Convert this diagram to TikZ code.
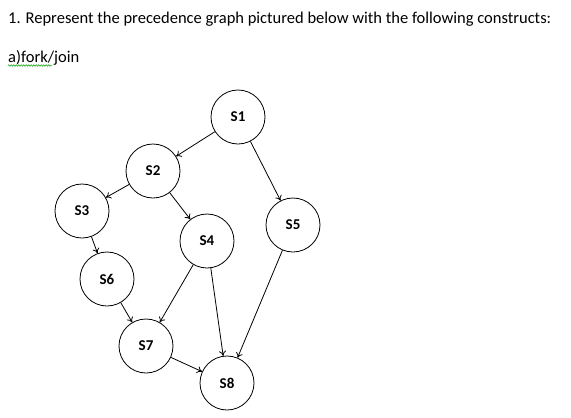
\documentclass[tikz,border=0pt]{standalone}
\usepackage{fontspec}
\setmainfont{Carlito}
\usepackage{tikz}
\usetikzlibrary{arrows.meta,positioning,decorations.pathmorphing}

\begin{document}
\begin{tikzpicture}[x=1pt, y=-1pt,
    stmt/.style={circle, draw, line width=0.8pt, minimum size=54pt, inner sep=0pt, font=\fontsize{15}{17}\selectfont\bfseries},
    arrow/.style={-{To[length=5pt,width=7pt]}, line width=0.8pt},
    line/.style={anchor=base west, inner sep=0pt, font=\fontsize{16.5}{19}\selectfont}]

    \useasboundingbox (0,0) rectangle (571,418);

    % Question text
    \node[line] (title) at (8,23) {1. Represent the precedence graph pictured below with the following constructs:};
    \node[line] (part) at (8,62) {a)fork/join};
    \draw[green!60!black, line width=0.5pt, decorate, decoration={snake, amplitude=0.8pt, segment length=2.5pt}]
        (8,65.5) -- (52,65.5);

    % Statements
    \node[stmt] (s1) at (238,117) {S1};
    \node[stmt] (s2) at (153,171) {S2};
    \node[stmt] (s3) at (82,211) {S3};
    \node[stmt] (s4) at (207,241) {S4};
    \node[stmt] (s5) at (293,225) {S5};
    \node[stmt] (s6) at (107,279) {S6};
    \node[stmt] (s7) at (146,346) {S7};
    \node[stmt] (s8) at (227,383) {S8};

    % Arrows
    \draw[arrow] (s1) -- (s2);
    \draw[arrow] (s1) -- (s5);
    \draw[arrow] (s2) -- (s3);
    \draw[arrow] (s2) -- (s4);
    \draw[arrow] (s3) -- (s6);
    \draw[arrow] (s4) -- (s7);
    \draw[arrow] (s4) -- (s8);
    \draw[arrow] (s5) -- (s8);
    \draw[arrow] (s6) -- (s7);
    \draw[arrow] (s7) -- (s8);

\end{tikzpicture}
\end{document}
